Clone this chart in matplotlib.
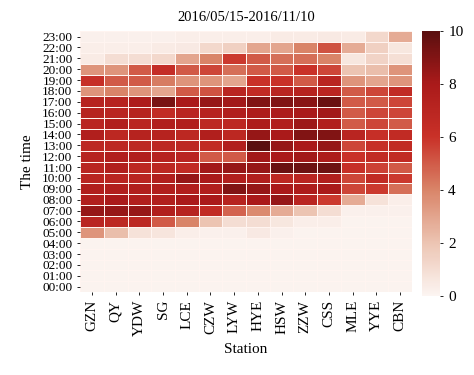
"""Hourly passenger heatmap per station, 2016/05/15-2016/11/10."""

import numpy as np
import matplotlib
matplotlib.use("Agg")
import matplotlib.pyplot as plt
from matplotlib.colors import LinearSegmentedColormap

STATIONS = ["GZN", "QY", "YDW", "SG", "LCE", "CZW", "LYW", "HYE", "HSW",
            "ZZW", "CSS", "MLE", "YYE", "CBN"]
HOURS = [f"{h:02d}:00" for h in range(24)]

# rows listed top-down as in the picture: 23:00 first, 00:00 last
VALUES = [
    [0.2, 0.2, 0.2, 0.2, 0.3, 0.3, 0.3, 0.3, 0.4, 0.4, 0.5, 0.4, 1.2, 2.8],  # 23
    [0.3, 0.3, 0.3, 0.4, 0.5, 1.2, 1.5, 3.0, 3.0, 4.0, 5.2, 2.8, 1.5, 0.6],  # 22
    [0.4, 1.0, 1.0, 1.2, 3.0, 4.0, 5.8, 5.0, 4.5, 4.5, 4.0, 0.6, 1.4, 0.9],  # 21
    [3.5, 3.5, 5.0, 6.3, 5.0, 5.5, 4.5, 5.0, 5.0, 6.0, 5.5, 2.0, 2.2, 3.5],  # 20
    [6.2, 5.0, 5.0, 4.2, 3.5, 3.5, 3.0, 6.0, 6.0, 5.0, 7.0, 3.5, 3.0, 3.5],  # 19
    [3.5, 4.0, 3.5, 3.0, 5.0, 5.2, 7.0, 6.5, 7.0, 7.2, 7.0, 5.0, 5.5, 6.5],  # 18
    [7.2, 7.2, 7.8, 9.2, 8.0, 8.5, 8.2, 9.0, 9.0, 8.8, 9.6, 5.0, 5.0, 5.5],  # 17
    [7.2, 7.0, 7.2, 6.5, 7.0, 7.2, 7.5, 7.8, 7.8, 8.0, 8.2, 5.0, 5.5, 5.5],  # 16
    [7.0, 7.5, 7.0, 7.5, 7.5, 6.8, 6.8, 7.8, 7.5, 8.3, 7.5, 5.0, 5.5, 5.0],  # 15
    [7.5, 6.8, 7.2, 7.2, 6.8, 7.5, 6.8, 8.5, 8.0, 9.0, 9.0, 7.0, 6.2, 6.5],  # 14
    [6.8, 6.8, 6.8, 6.8, 6.8, 6.5, 7.5, 10.0, 8.5, 8.0, 8.5, 5.5, 6.2, 6.5],  # 13
    [7.2, 7.5, 7.5, 7.2, 7.0, 5.0, 5.0, 8.2, 8.0, 8.2, 7.8, 6.0, 6.5, 6.5],  # 12
    [7.0, 7.5, 6.8, 6.8, 6.5, 8.2, 8.5, 8.5, 9.6, 9.5, 9.5, 6.2, 5.6, 5.0],  # 11
    [7.0, 7.0, 7.0, 7.5, 8.5, 8.0, 7.5, 7.5, 6.8, 7.0, 7.5, 5.5, 6.5, 5.8],  # 10
    [7.5, 7.5, 7.5, 7.5, 7.5, 7.5, 9.0, 8.5, 8.0, 7.8, 8.0, 5.5, 5.8, 4.5],  # 09
    [7.5, 8.0, 7.5, 7.5, 8.0, 8.0, 7.2, 8.0, 8.5, 7.0, 5.8, 2.8, 0.8, 0.3],  # 08
    [8.5, 8.5, 8.5, 7.5, 7.2, 6.5, 4.8, 3.8, 2.8, 2.0, 1.0, 0.2, 0.2, 0.2],  # 07
    [7.0, 6.8, 6.8, 5.0, 4.0, 2.0, 1.0, 1.0, 0.6, 0.3, 0.3, 0.1, 0.1, 0.1],  # 06
    [3.5, 2.2, 0.8, 0.7, 0.3, 0.2, 0.2, 0.5, 0.2, 0.1, 0.1, 0.1, 0.1, 0.1],  # 05
    [0.1] * 14,  # 04
    [0.1] * 14,  # 03
    [0.1] * 14,  # 02
    [0.1] * 14,  # 01
    [0.1] * 14,  # 00
]

CMAP = LinearSegmentedColormap.from_list(
    "muted_reds",
    [(0.0, "#fcf5f2"), (0.2, "#ecc4b2"), (0.4, "#d98468"),
     (0.6, "#c93128"), (0.8, "#aa1a1a"), (1.0, "#5a0f0f")])

plt.rcParams["font.family"] = ["Liberation Serif", "DejaVu Serif"]
plt.rcParams["font.size"] = 10

data = np.array(VALUES[::-1])  # 00:00 at row 0 (bottom)

fig = plt.figure(figsize=(4.74, 3.75), dpi=100)
ax = fig.add_axes([0.169, 0.221, 0.700, 0.696])
cax = fig.add_axes([0.890, 0.211, 0.038, 0.707])

mesh = ax.pcolormesh(data, cmap=CMAP, vmin=0, vmax=10,
                     edgecolors="#fff4f0", linewidth=0.5)
ax.set_xlim(0, len(STATIONS))
ax.set_ylim(0, len(HOURS))
ax.set_xticks(np.arange(len(STATIONS)) + 0.5)
ax.set_xticklabels(STATIONS, rotation=90)
ax.set_yticks(np.arange(len(HOURS)) + 0.5)
ax.set_yticklabels(HOURS)
ax.tick_params(length=2.5, width=0.6, pad=3)
ax.tick_params(axis="x", labelsize=11)
ax.tick_params(axis="y", labelsize=9.5)
for s in ax.spines.values():
    s.set_visible(False)
ax.set_xlabel("Station", fontsize=11, labelpad=5)
ax.set_ylabel("The time", fontsize=11, labelpad=6)
ax.set_title("2016/05/15-2016/11/10", fontsize=10.5, pad=7)

cb = fig.colorbar(mesh, cax=cax, ticks=[0, 2, 4, 6, 8, 10])
cb.outline.set_visible(False)
cb.ax.tick_params(length=2.5, width=0.6, labelsize=11)

fig.savefig("out.png", dpi=100)
